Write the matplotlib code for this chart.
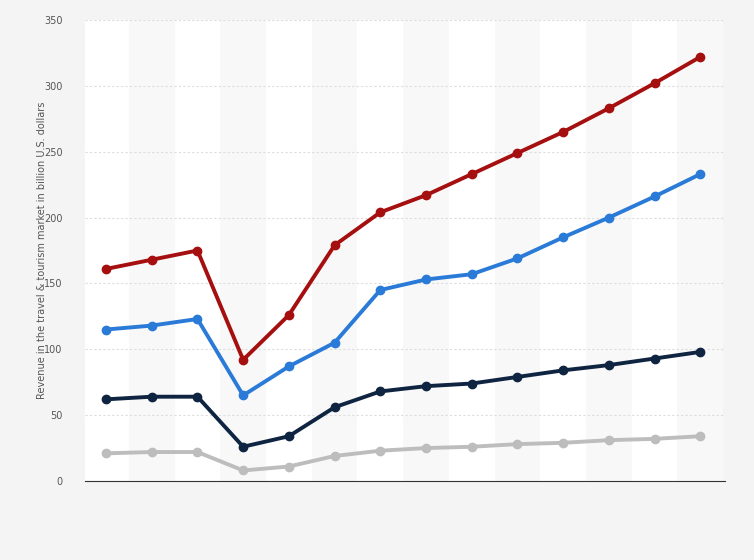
import matplotlib
matplotlib.use("Agg")
import matplotlib.pyplot as plt
import numpy as np

years = list(range(2017, 2031))
red = [161, 168, 175, 92, 126, 179, 204, 217, 233, 249, 265, 283, 302, 322]
blue = [115, 118, 123, 65, 87, 105, 145, 153, 157, 169, 185, 200, 216, 233]
navy = [62, 64, 64, 26, 34, 56, 68, 72, 74, 79, 84, 88, 93, 98]
grey = [21, 22, 22, 8, 11, 19, 23, 25, 26, 28, 29, 31, 32, 34]
yticks = [0, 50, 100, 150, 200, 250, 300, 350]

fig = plt.figure(figsize=(7.54, 5.60), dpi=100, facecolor="#f4f4f4")
ax = fig.add_axes([85/754, 1-481/560, 640/754, 461/560])
ax.set_facecolor("#f4f4f4")
x = np.arange(len(years))
for i in x:
    ax.axvspan(i-0.5, i+0.5, color="white" if i % 2 == 0 else "#f8f8f8", lw=0, zorder=0)
for s, c in [(red, "#a50f0f"), (blue, "#2a7ad8"), (navy, "#0f2440"), (grey, "#bdbdbd")]:
    ax.plot(x, s, color=c, lw=2.8, marker="o", ms=6, zorder=3)
ax.set_xlim(-0.46, len(years)-0.5+0.04)
ax.set_ylim(0, 350)
ax.set_yticks(yticks)
ax.yaxis.grid(True, color="#dddddd", ls=(0, (2, 2)), lw=0.8)
ax.set_axisbelow(True)
ax.set_xticks([])
for sp in ["top", "right", "left"]:
    ax.spines[sp].set_visible(False)
ax.spines["bottom"].set_color("#333333")
ax.tick_params(axis="y", length=0, labelsize=7, labelcolor="#555555", pad=16)
ax.set_ylabel("Revenue in the travel & tourism market in billion U.S. dollars", fontsize=7, color="#555555", labelpad=-2)
fig.savefig("out.png", dpi=100, facecolor=fig.get_facecolor())
